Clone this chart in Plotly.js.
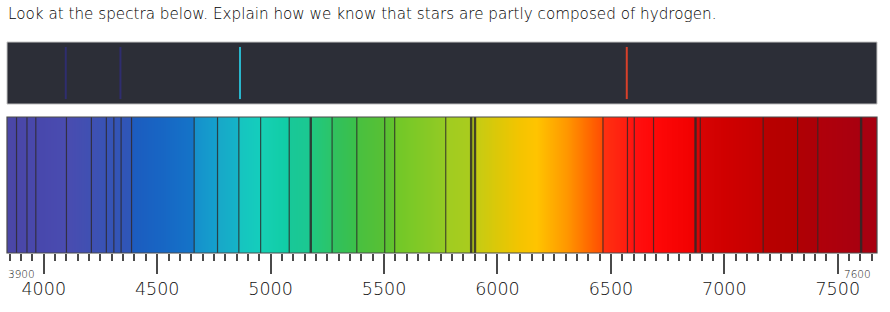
<!DOCTYPE html>
<html>
<head>
<meta charset="utf-8">
<script src="https://cdn.plot.ly/plotly-3.0.1.min.js"></script>
<style>html,body{margin:0;padding:0;background:#fff;}#chart{width:890px;height:312px;}</style>
</head>
<body>
<div id="chart"></div>
<script>
// ---- data ----
const titleText = "Look at the spectra below. Explain how we know that stars are partly composed of hydrogen.";
const waveRange = [3838, 7673];
// continuous spectrum colour stops (wavelength in Å, colour)
const gradWave = [3838,3990,4100,4210,4300,4386,4392,4520,4660,4664,4760,4766,4860,4862,4956,4958,5080,5082,5176,5180,5270,5272,5380,5382,5500,5548,5550,5770,5772,5884,5902,6000,6100,6170,6300,6400,6464,6466,6570,6600,6690,6870,6872,7000,7170,7172,7320,7322,7410,7412,7600,7673];
const gradColor = ["#4b47a6","#4848ad","#4a4cb0","#3f50b2","#3554b6","#2e56b8","#1c5cbf","#1766c4","#1474c8","#1690cc","#14a0cc","#18a8c8","#14b4c8","#16c4c0","#14cebc","#16d0b4","#10cca4","#18c898","#1cc890","#20c880","#2cc468","#30c060","#3cc048","#48c040","#58c034","#64c42c","#70c828","#94ca24","#a0cc20","#aacc1e","#c4cc14","#dcc808","#f4c400","#ffc400","#ff9800","#ff6a00","#ff4a04","#ff3010","#ff1c10","#ff1010","#ff0808","#f00000","#d80404","#d00000","#c40000","#b80000","#b40000","#b00004","#ac0008","#b0000a","#a80010","#a80010"];
// absorption lines (Å)
const thinLines = [3880,3926,3965,4100,4210,4276,4309,4341,4387,4663,4766,4860,4956,5082,5271,5380,5503,5547,5772,6465,6573,6603,6688,6894,7171,7323,7412];
const thickLines = [5177,5884,5901,6873,7603];
// hydrogen emission lines (Å) and colours
const emitWave = [4097,4338,4865,6570];
const emitColor = ["#2f2d6e","#2f2d6e","#2ab6cc","#d8402a"];
// axis ticks
const majorTick0 = 4000, majorStep = 500, midStep = 100, minorStep = 50;
const endLabels = [3900, 7600];

// ---- traces ----
const n = gradWave.length;
const colorscale = gradColor.map((c,i)=>[i/(n-1), c]);
const zRow = gradWave.map((w,i)=>i);
const traces = [];
traces.push({
  type:'heatmap', x: gradWave, y:[0,1], z:[zRow, zRow],
  colorscale: colorscale, zmin:0, zmax:n-1, zsmooth:'best',
  showscale:false, hoverinfo:'skip', xaxis:'x', yaxis:'y'
});
function segs(arr){
  const xs=[], ys=[];
  arr.forEach(w=>{xs.push(w,w,null); ys.push(0,1,null);});
  return {xs, ys};
}
const t1 = segs(thinLines);
traces.push({type:'scatter', mode:'lines', x:t1.xs, y:t1.ys, line:{color:'rgba(45,40,40,0.8)', width:1.2}, hoverinfo:'skip', showlegend:false, xaxis:'x', yaxis:'y'});
const t2 = segs(thickLines);
traces.push({type:'scatter', mode:'lines', x:t2.xs, y:t2.ys, line:{color:'rgba(45,40,40,0.85)', width:2.4}, hoverinfo:'skip', showlegend:false, xaxis:'x', yaxis:'y'});
emitWave.forEach((w,i)=>{
  traces.push({type:'scatter', mode:'lines', x:[w,w], y:[0.08,0.92], line:{color:emitColor[i], width:2}, hoverinfo:'skip', showlegend:false, xaxis:'x', yaxis:'y2'});
});

const font = '"DejaVu Sans", Lato, sans-serif';
const layout = {
  width:890, height:312,
  margin:{l:7, r:13, t:42, b:59},
  paper_bgcolor:'#ffffff', plot_bgcolor:'rgba(0,0,0,0)',
  showlegend:false,
  title:{text:titleText, x:0.009, xanchor:'left', y:0.955, yanchor:'middle', font:{family:font, size:15.2, color:'#000', weight:200}},
  xaxis:{
    range:waveRange, anchor:'y', showgrid:false, zeroline:false, showline:false,
    ticks:'outside', tick0:majorTick0, dtick:majorStep, ticklen:20, tickwidth:2, tickcolor:'#4a4a4a',
    tickfont:{family:font, size:17.5, color:'#111', weight:200},
    minor:{ticks:'outside', dtick:minorStep, tick0:majorTick0, ticklen:7, tickwidth:2, tickcolor:'#4a4a4a', showgrid:false}
  },
  xaxis2:{
    range:waveRange, overlaying:'x', anchor:'y', side:'bottom', showgrid:false, zeroline:false, showline:false,
    ticks:'outside', tick0:majorTick0, dtick:midStep, ticklen:12, tickwidth:2, tickcolor:'#4a4a4a', showticklabels:false
  },
  yaxis:{domain:[0,0.6445], range:[0,1], visible:false, fixedrange:true},
  yaxis2:{domain:[0.706,1], range:[0,1], anchor:'x', visible:false, fixedrange:true},
  shapes:[
    {type:'rect', xref:'x domain', yref:'y2 domain', x0:0, x1:1, y0:0, y1:1, fillcolor:'#2c2e37', line:{color:'#c4c4c4', width:1}, layer:'below'},
    {type:'rect', xref:'x domain', yref:'y domain', x0:0, x1:1, y0:0, y1:1, fillcolor:'rgba(0,0,0,0)', line:{color:'#4a4a4a', width:1.2}, layer:'above'}
  ],
  annotations: endLabels.map((v,i)=>({
    x:v, xref:'x', y:-0.098, yref:'paper', text:String(v), showarrow:false,
    xanchor:'center', yanchor:'middle', xshift: i===0 ? 0 : -3,
    font:{family:font, size:10.5, color:'#111', weight:200}
  }))
};
Plotly.newPlot('chart', traces, layout, {displayModeBar:false, staticPlot:true});
</script>
</body>
</html>
